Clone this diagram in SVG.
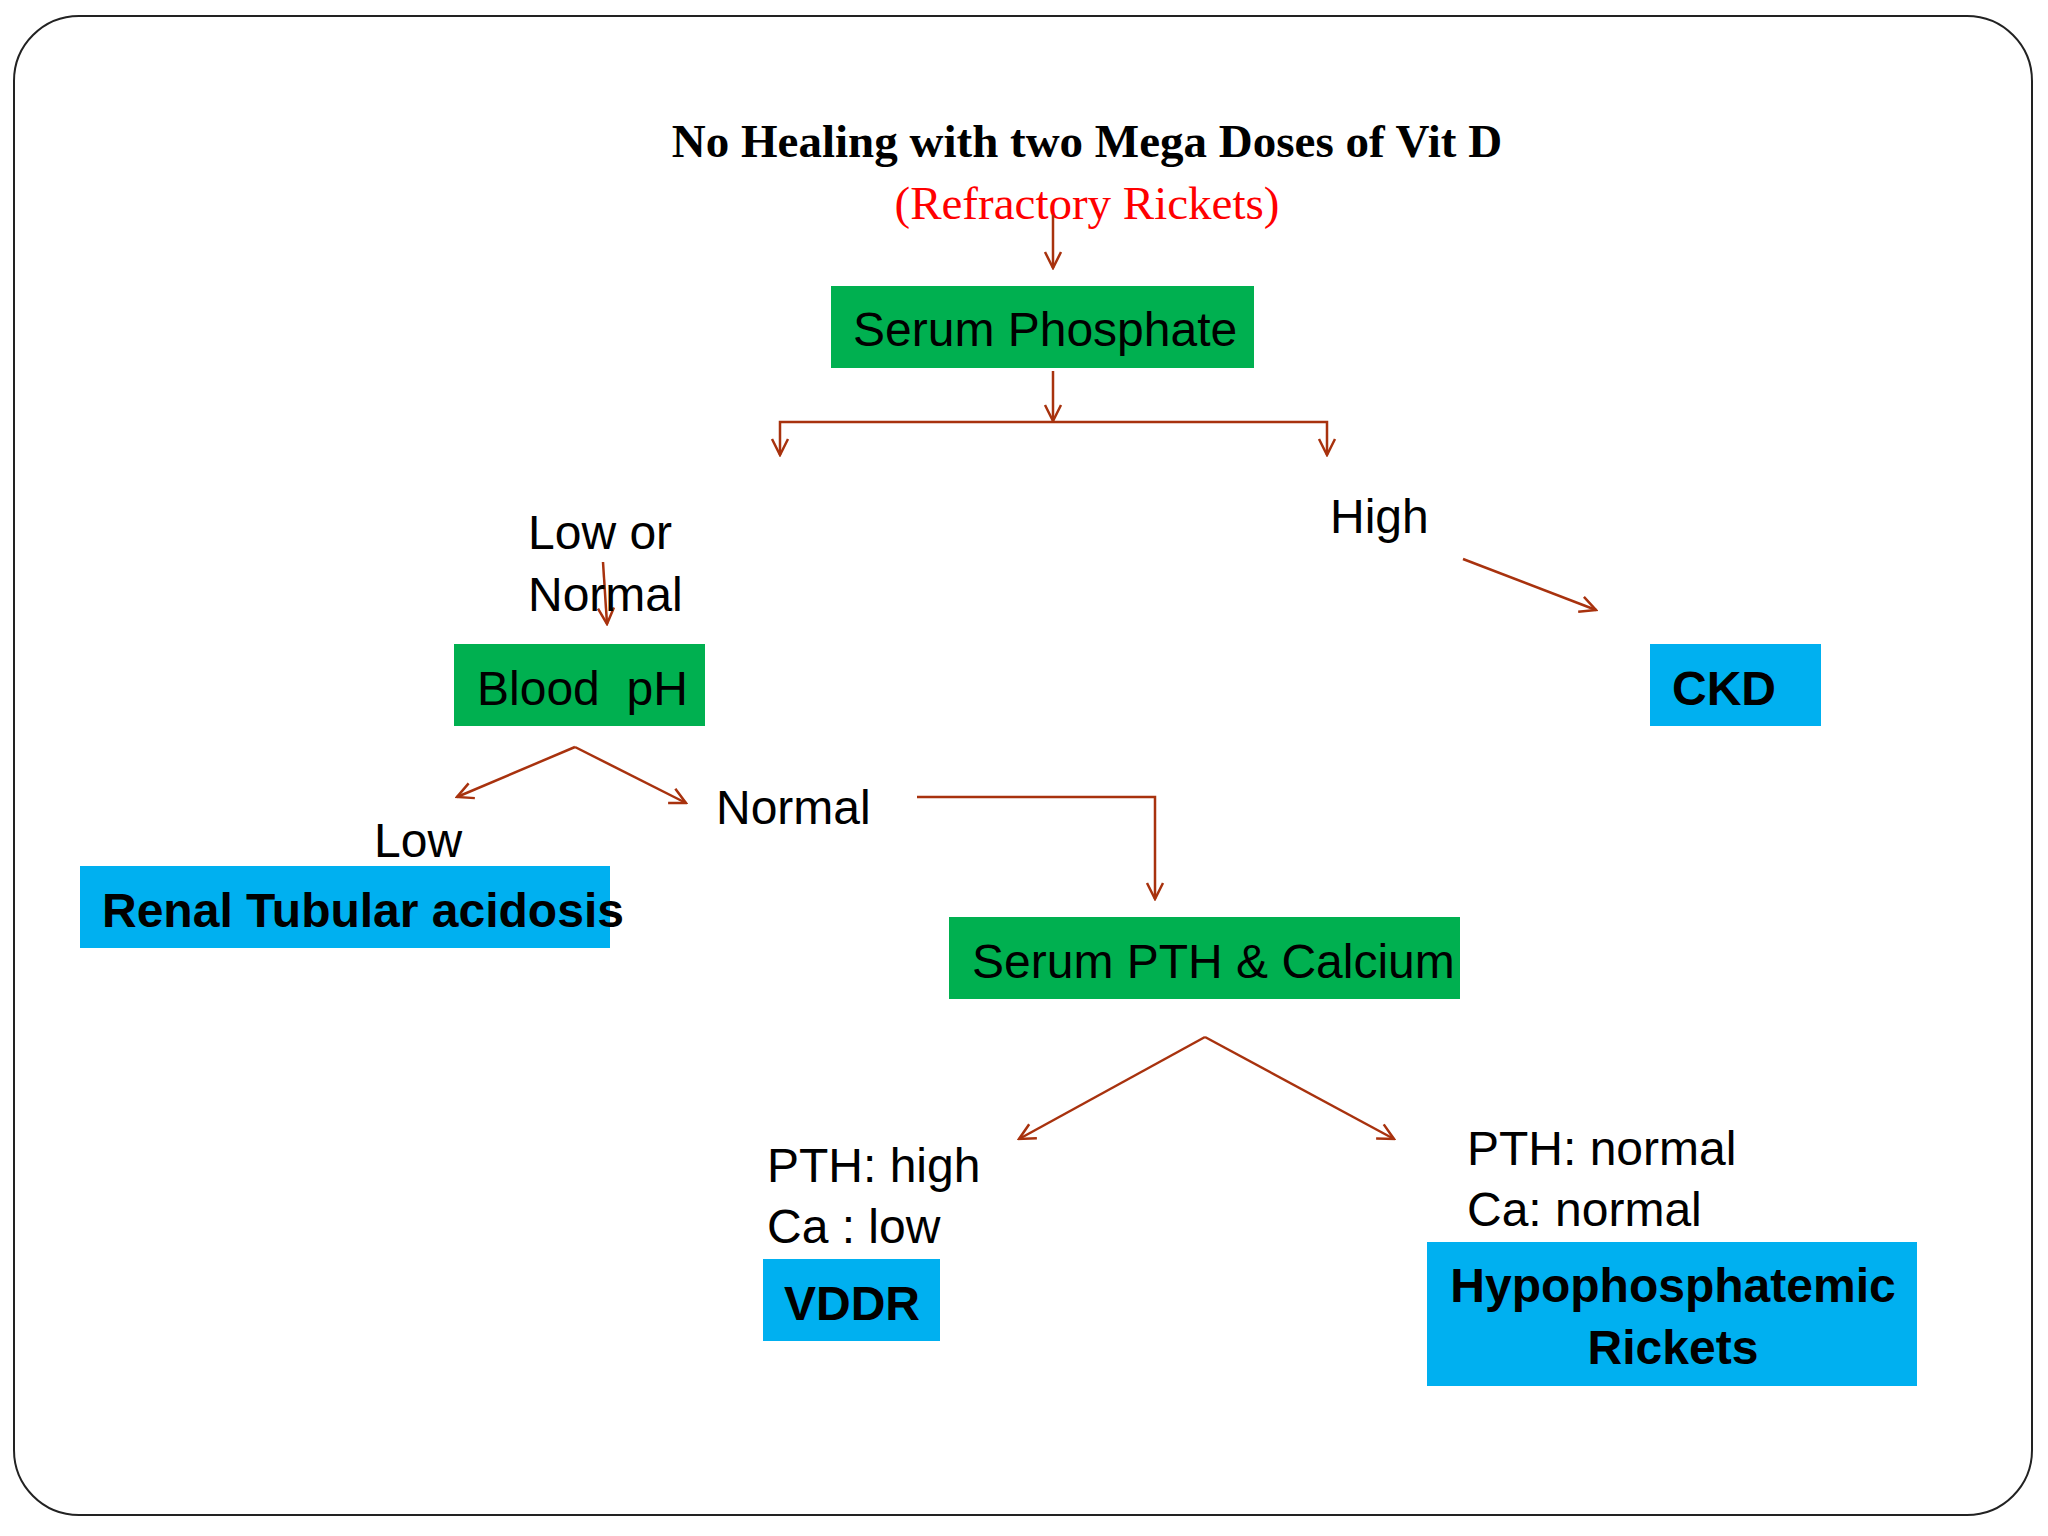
<svg xmlns="http://www.w3.org/2000/svg" width="2048" height="1536" viewBox="0 0 2048 1536">
<style>
.t{font-family:"Liberation Sans",Arial,sans-serif;font-size:48px;fill:#000}
.b{font-weight:bold}
.g{fill:#00B050}
.c{fill:#00B0F0}
.l{fill:none;stroke:#A8320E;stroke-width:2.5;marker-end:url(#a)}
</style>
<defs>
<marker id="a" viewBox="0 0 20 20" refX="18" refY="10" markerWidth="20" markerHeight="20" markerUnits="userSpaceOnUse" orient="auto">
<polyline points="2,2 18,10 2,18" fill="none" stroke="#A8320E" stroke-width="2.5"/>
</marker>
</defs>
<rect x="0" y="0" width="2048" height="1536" fill="#fff"/>
<rect x="14" y="16" width="2018" height="1499" rx="65" fill="#fff" stroke="#222" stroke-width="2"/>
<g id="title">
<text x="1087" y="157" text-anchor="middle" font-family="Liberation Serif,serif" font-weight="bold" font-size="47">No Healing with two Mega Doses of Vit D</text>
<text x="1087" y="219" text-anchor="middle" font-family="Liberation Serif,serif" font-size="47" fill="#FF0000">(Refractory Rickets)</text>
</g>
<g id="connectors">
<path class="l" d="M1053,215 V268"/>
<path class="l" d="M1053,371 V421"/>
<path class="l" d="M1053,422 H780 V455"/>
<path class="l" d="M1053,422 H1327 V455"/>
<path class="l" d="M603,562 L607,624"/>
<path class="l" d="M1463,559 L1596,610"/>
<path class="l" d="M575,747 L457,797"/>
<path class="l" d="M575,747 L686,803"/>
<path class="l" d="M917,797 H1155 V899"/>
<path class="l" d="M1205,1037 L1019,1139"/>
<path class="l" d="M1205,1037 L1394,1139"/>
</g>
<g id="serum-phosphate"><rect class="g" x="831" y="286" width="423" height="82"/><text class="t" x="853" y="346">Serum Phosphate</text></g>
<g id="low-normal"><text class="t" x="528" y="549">Low or</text><text class="t" x="528" y="611">Normal</text></g>
<g id="high"><text class="t" x="1330" y="533">High</text></g>
<g id="blood-ph"><rect class="g" x="454" y="644" width="251" height="82"/><text class="t" x="477" y="705" xml:space="preserve">Blood  pH</text></g>
<g id="ckd"><rect class="c" x="1650" y="644" width="171" height="82"/><text class="t b" x="1672" y="705">CKD</text></g>
<g id="low"><text class="t" x="374" y="857">Low</text></g>
<g id="rta"><rect class="c" x="80" y="866" width="530" height="82"/><text class="t b" x="102" y="927">Renal Tubular acidosis</text></g>
<g id="normal"><text class="t" x="716" y="824">Normal</text></g>
<g id="serum-pth"><rect class="g" x="949" y="917" width="511" height="82"/><text class="t" x="972" y="978">Serum PTH &amp; Calcium</text></g>
<g id="pth-high"><text class="t" x="767" y="1182">PTH: high</text><text class="t" x="767" y="1243">Ca : low</text></g>
<g id="vddr"><rect class="c" x="763" y="1259" width="177" height="82"/><text class="t b" x="784" y="1320">VDDR</text></g>
<g id="pth-normal"><text class="t" x="1467" y="1165">PTH: normal</text><text class="t" x="1467" y="1226">Ca: normal</text></g>
<g id="hypo"><rect class="c" x="1427" y="1242" width="490" height="144"/><text class="t b" x="1673" y="1302" text-anchor="middle">Hypophosphatemic</text><text class="t b" x="1673" y="1364" text-anchor="middle">Rickets</text></g>
</svg>
